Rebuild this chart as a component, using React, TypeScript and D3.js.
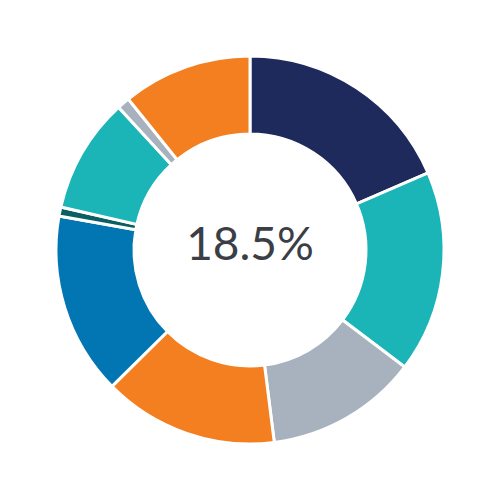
import React, {useEffect, useRef} from "react";
import * as d3 from "d3";

const categories = ["A", "B", "C", "D", "E", "F", "G", "H", "I"];
const values = [18.5, 16.8, 12.7, 14.6, 15.2, 0.75, 9.6, 1.05, 10.8];
const colors = ["#1d2a5b", "#1bb4b7", "#a8b2bf", "#f47f20", "#0176b3", "#0b5f62", "#1bb4b7", "#a8b2bf", "#f47f20"];
const centerLabel = "18.5%";

const App: React.FC = () => {
    const ref = useRef<SVGSVGElement | null>(null);

    useEffect(() => {
        if (!ref.current) return;
        const svg = d3.select(ref.current);
        svg.selectAll("*").remove();

        const width = 500;
        const height = 500;
        const outer = 194;
        const inner = 116;

        const data = categories.map((c, i) => ({name: c, value: values[i], color: colors[i]}));

        const pie = d3.pie<{ name: string, value: number, color: string }>()
            .sort(null)
            .value((d) => d.value);

        const arc = d3.arc<d3.PieArcDatum<{ name: string, value: number, color: string }>>()
            .innerRadius(inner)
            .outerRadius(outer);

        const g = svg
            .append("g")
            .attr("transform", `translate(${width / 2},${height / 2})`);

        g.selectAll("path")
            .data(pie(data))
            .join("path")
            .attr("d", arc)
            .attr("fill", (d) => d.data.color)
            .attr("stroke", "#ffffff")
            .attr("stroke-width", 3);

        g.append("text")
            .attr("x", 0)
            .attr("y", -2)
            .attr("text-anchor", "middle")
            .attr("dominant-baseline", "middle")
            .attr("font-family", "Lato, sans-serif")
            .attr("font-size", "46px")
            .attr("fill", "#3b3e46")
            .text(centerLabel);
    }, []);

    return (
        <div style={{position: "absolute", left: 0, top: 0}}>
            <svg ref={ref} width={500} height={500} viewBox="0 0 500 500"></svg>
        </div>
    );
};

export default App;
